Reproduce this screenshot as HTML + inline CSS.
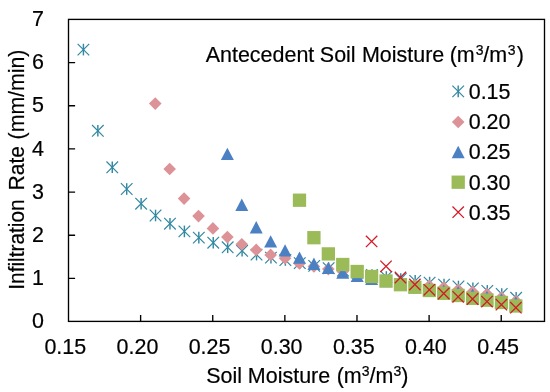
<!DOCTYPE html>
<html><head><meta charset="utf-8"><title>Infiltration Rate vs Soil Moisture</title>
<style>
html,body{margin:0;padding:0;background:#fff;}
body{width:550px;height:392px;overflow:hidden;}
svg{display:block;}
text{font-family:"Liberation Sans", Arial, sans-serif;font-size:21.5px;fill:#000;stroke:#000;stroke-width:0.2px;}
</style></head>
<body>
<svg width="550" height="392" viewBox="0 0 550 392">
<rect width="550" height="392" fill="#fff"/>
<rect x="68.5" y="19.4" width="476.00" height="302.00" fill="none" stroke="#000" stroke-width="1.35"/>
<path d="M140.62 321.5V315.00M212.74 321.5V315.00M284.86 321.5V315.00M356.98 321.5V315.00M429.11 321.5V315.00M501.23 321.5V315.00M68.5 278.36H75.10M68.5 235.21H75.10M68.5 192.07H75.10M68.5 148.93H75.10M68.5 105.79H75.10M68.5 62.64H75.10" stroke="#000" stroke-width="1.35" fill="none"/>
<path d="M77.62 43.80L89.22 55.40M89.22 43.80L77.62 55.40" stroke="#3288a2" stroke-width="1.2" fill="none"/><path d="M83.42 43.80V55.40" stroke="#3288a2" stroke-width="1.45" fill="none"/>
<path d="M92.05 125.00L103.65 136.60M103.65 125.00L92.05 136.60" stroke="#3288a2" stroke-width="1.2" fill="none"/><path d="M97.85 125.00V136.60" stroke="#3288a2" stroke-width="1.45" fill="none"/>
<path d="M106.47 161.50L118.07 173.10M118.07 161.50L106.47 173.10" stroke="#3288a2" stroke-width="1.2" fill="none"/><path d="M112.27 161.50V173.10" stroke="#3288a2" stroke-width="1.45" fill="none"/>
<path d="M120.90 183.20L132.50 194.80M132.50 183.20L120.90 194.80" stroke="#3288a2" stroke-width="1.2" fill="none"/><path d="M126.70 183.20V194.80" stroke="#3288a2" stroke-width="1.45" fill="none"/>
<path d="M135.32 197.90L146.92 209.50M146.92 197.90L135.32 209.50" stroke="#3288a2" stroke-width="1.2" fill="none"/><path d="M141.12 197.90V209.50" stroke="#3288a2" stroke-width="1.45" fill="none"/>
<path d="M149.75 209.70L161.35 221.30M161.35 209.70L149.75 221.30" stroke="#3288a2" stroke-width="1.2" fill="none"/><path d="M155.55 209.70V221.30" stroke="#3288a2" stroke-width="1.45" fill="none"/>
<path d="M164.17 217.90L175.77 229.50M175.77 217.90L164.17 229.50" stroke="#3288a2" stroke-width="1.2" fill="none"/><path d="M169.97 217.90V229.50" stroke="#3288a2" stroke-width="1.45" fill="none"/>
<path d="M178.59 225.60L190.19 237.20M190.19 225.60L178.59 237.20" stroke="#3288a2" stroke-width="1.2" fill="none"/><path d="M184.39 225.60V237.20" stroke="#3288a2" stroke-width="1.45" fill="none"/>
<path d="M193.02 231.80L204.62 243.40M204.62 231.80L193.02 243.40" stroke="#3288a2" stroke-width="1.2" fill="none"/><path d="M198.82 231.80V243.40" stroke="#3288a2" stroke-width="1.45" fill="none"/>
<path d="M207.44 236.90L219.04 248.50M219.04 236.90L207.44 248.50" stroke="#3288a2" stroke-width="1.2" fill="none"/><path d="M213.24 236.90V248.50" stroke="#3288a2" stroke-width="1.45" fill="none"/>
<path d="M221.87 241.50L233.47 253.10M233.47 241.50L221.87 253.10" stroke="#3288a2" stroke-width="1.2" fill="none"/><path d="M227.67 241.50V253.10" stroke="#3288a2" stroke-width="1.45" fill="none"/>
<path d="M236.29 245.00L247.89 256.60M247.89 245.00L236.29 256.60" stroke="#3288a2" stroke-width="1.2" fill="none"/><path d="M242.09 245.00V256.60" stroke="#3288a2" stroke-width="1.45" fill="none"/>
<path d="M250.72 248.80L262.32 260.40M262.32 248.80L250.72 260.40" stroke="#3288a2" stroke-width="1.2" fill="none"/><path d="M256.52 248.80V260.40" stroke="#3288a2" stroke-width="1.45" fill="none"/>
<path d="M265.14 251.80L276.74 263.40M276.74 251.80L265.14 263.40" stroke="#3288a2" stroke-width="1.2" fill="none"/><path d="M270.94 251.80V263.40" stroke="#3288a2" stroke-width="1.45" fill="none"/>
<path d="M279.56 254.20L291.16 265.80M291.16 254.20L279.56 265.80" stroke="#3288a2" stroke-width="1.2" fill="none"/><path d="M285.36 254.20V265.80" stroke="#3288a2" stroke-width="1.45" fill="none"/>
<path d="M293.99 257.30L305.59 268.90M305.59 257.30L293.99 268.90" stroke="#3288a2" stroke-width="1.2" fill="none"/><path d="M299.79 257.30V268.90" stroke="#3288a2" stroke-width="1.45" fill="none"/>
<path d="M308.41 260.10L320.01 271.70M320.01 260.10L308.41 271.70" stroke="#3288a2" stroke-width="1.2" fill="none"/><path d="M314.21 260.10V271.70" stroke="#3288a2" stroke-width="1.45" fill="none"/>
<path d="M322.84 262.40L334.44 274.00M334.44 262.40L322.84 274.00" stroke="#3288a2" stroke-width="1.2" fill="none"/><path d="M328.64 262.40V274.00" stroke="#3288a2" stroke-width="1.45" fill="none"/>
<path d="M337.26 264.80L348.86 276.40M348.86 264.80L337.26 276.40" stroke="#3288a2" stroke-width="1.2" fill="none"/><path d="M343.06 264.80V276.40" stroke="#3288a2" stroke-width="1.45" fill="none"/>
<path d="M351.68 267.00L363.28 278.60M363.28 267.00L351.68 278.60" stroke="#3288a2" stroke-width="1.2" fill="none"/><path d="M357.48 267.00V278.60" stroke="#3288a2" stroke-width="1.45" fill="none"/>
<path d="M366.11 269.20L377.71 280.80M377.71 269.20L366.11 280.80" stroke="#3288a2" stroke-width="1.2" fill="none"/><path d="M371.91 269.20V280.80" stroke="#3288a2" stroke-width="1.45" fill="none"/>
<path d="M380.53 271.20L392.13 282.80M392.13 271.20L380.53 282.80" stroke="#3288a2" stroke-width="1.2" fill="none"/><path d="M386.33 271.20V282.80" stroke="#3288a2" stroke-width="1.45" fill="none"/>
<path d="M394.96 273.20L406.56 284.80M406.56 273.20L394.96 284.80" stroke="#3288a2" stroke-width="1.2" fill="none"/><path d="M400.76 273.20V284.80" stroke="#3288a2" stroke-width="1.45" fill="none"/>
<path d="M409.38 275.10L420.98 286.70M420.98 275.10L409.38 286.70" stroke="#3288a2" stroke-width="1.2" fill="none"/><path d="M415.18 275.10V286.70" stroke="#3288a2" stroke-width="1.45" fill="none"/>
<path d="M423.81 276.80L435.41 288.40M435.41 276.80L423.81 288.40" stroke="#3288a2" stroke-width="1.2" fill="none"/><path d="M429.61 276.80V288.40" stroke="#3288a2" stroke-width="1.45" fill="none"/>
<path d="M438.23 278.80L449.83 290.40M449.83 278.80L438.23 290.40" stroke="#3288a2" stroke-width="1.2" fill="none"/><path d="M444.03 278.80V290.40" stroke="#3288a2" stroke-width="1.45" fill="none"/>
<path d="M452.65 280.70L464.25 292.30M464.25 280.70L452.65 292.30" stroke="#3288a2" stroke-width="1.2" fill="none"/><path d="M458.45 280.70V292.30" stroke="#3288a2" stroke-width="1.45" fill="none"/>
<path d="M467.08 282.60L478.68 294.20M478.68 282.60L467.08 294.20" stroke="#3288a2" stroke-width="1.2" fill="none"/><path d="M472.88 282.60V294.20" stroke="#3288a2" stroke-width="1.45" fill="none"/>
<path d="M481.50 285.10L493.10 296.70M493.10 285.10L481.50 296.70" stroke="#3288a2" stroke-width="1.2" fill="none"/><path d="M487.30 285.10V296.70" stroke="#3288a2" stroke-width="1.45" fill="none"/>
<path d="M495.93 288.20L507.53 299.80M507.53 288.20L495.93 299.80" stroke="#3288a2" stroke-width="1.2" fill="none"/><path d="M501.73 288.20V299.80" stroke="#3288a2" stroke-width="1.45" fill="none"/>
<path d="M510.35 292.00L521.95 303.60M521.95 292.00L510.35 303.60" stroke="#3288a2" stroke-width="1.2" fill="none"/><path d="M516.15 292.00V303.60" stroke="#3288a2" stroke-width="1.45" fill="none"/>
<path d="M155.25 97.30L161.55 103.60L155.25 109.90L148.95 103.60Z" fill="#dc9296"/>
<path d="M169.67 162.70L175.97 169.00L169.67 175.30L163.37 169.00Z" fill="#dc9296"/>
<path d="M184.09 192.30L190.39 198.60L184.09 204.90L177.79 198.60Z" fill="#dc9296"/>
<path d="M198.52 209.80L204.82 216.10L198.52 222.40L192.22 216.10Z" fill="#dc9296"/>
<path d="M212.94 222.10L219.24 228.40L212.94 234.70L206.64 228.40Z" fill="#dc9296"/>
<path d="M227.37 230.80L233.67 237.10L227.37 243.40L221.07 237.10Z" fill="#dc9296"/>
<path d="M241.79 237.90L248.09 244.20L241.79 250.50L235.49 244.20Z" fill="#dc9296"/>
<path d="M256.22 243.60L262.52 249.90L256.22 256.20L249.92 249.90Z" fill="#dc9296"/>
<path d="M270.64 248.60L276.94 254.90L270.64 261.20L264.34 254.90Z" fill="#dc9296"/>
<path d="M285.06 252.00L291.36 258.30L285.06 264.60L278.76 258.30Z" fill="#dc9296"/>
<path d="M299.49 257.20L305.79 263.50L299.49 269.80L293.19 263.50Z" fill="#dc9296"/>
<path d="M313.91 260.10L320.21 266.40L313.91 272.70L307.61 266.40Z" fill="#dc9296"/>
<path d="M328.34 262.80L334.64 269.10L328.34 275.40L322.04 269.10Z" fill="#dc9296"/>
<path d="M342.76 265.20L349.06 271.50L342.76 277.80L336.46 271.50Z" fill="#dc9296"/>
<path d="M357.18 268.20L363.48 274.50L357.18 280.80L350.88 274.50Z" fill="#dc9296"/>
<path d="M371.61 271.30L377.91 277.60L371.61 283.90L365.31 277.60Z" fill="#dc9296"/>
<path d="M386.03 274.70L392.33 281.00L386.03 287.30L379.73 281.00Z" fill="#dc9296"/>
<path d="M400.46 277.70L406.76 284.00L400.46 290.30L394.16 284.00Z" fill="#dc9296"/>
<path d="M414.88 278.70L421.18 285.00L414.88 291.30L408.58 285.00Z" fill="#dc9296"/>
<path d="M429.31 279.50L435.61 285.80L429.31 292.10L423.01 285.80Z" fill="#dc9296"/>
<path d="M443.73 281.30L450.03 287.60L443.73 293.90L437.43 287.60Z" fill="#dc9296"/>
<path d="M458.15 283.40L464.45 289.70L458.15 296.00L451.85 289.70Z" fill="#dc9296"/>
<path d="M472.58 285.50L478.88 291.80L472.58 298.10L466.28 291.80Z" fill="#dc9296"/>
<path d="M487.00 287.70L493.30 294.00L487.00 300.30L480.70 294.00Z" fill="#dc9296"/>
<path d="M501.43 291.20L507.73 297.50L501.43 303.80L495.13 297.50Z" fill="#dc9296"/>
<path d="M515.85 294.70L522.15 301.00L515.85 307.30L509.55 301.00Z" fill="#dc9296"/>
<path d="M227.37 147.70L233.87 160.10L220.87 160.10Z" fill="#4b80c3"/>
<path d="M241.79 198.50L248.29 210.90L235.29 210.90Z" fill="#4b80c3"/>
<path d="M256.22 221.10L262.72 233.50L249.72 233.50Z" fill="#4b80c3"/>
<path d="M270.64 235.20L277.14 247.60L264.14 247.60Z" fill="#4b80c3"/>
<path d="M285.06 244.20L291.56 256.60L278.56 256.60Z" fill="#4b80c3"/>
<path d="M299.49 251.40L305.99 263.80L292.99 263.80Z" fill="#4b80c3"/>
<path d="M313.91 257.50L320.41 269.90L307.41 269.90Z" fill="#4b80c3"/>
<path d="M328.34 261.70L334.84 274.10L321.84 274.10Z" fill="#4b80c3"/>
<path d="M342.76 266.30L349.26 278.70L336.26 278.70Z" fill="#4b80c3"/>
<path d="M357.18 269.50L363.68 281.90L350.68 281.90Z" fill="#4b80c3"/>
<path d="M371.61 272.70L378.11 285.10L365.11 285.10Z" fill="#4b80c3"/>
<path d="M386.03 274.80L392.53 287.20L379.53 287.20Z" fill="#4b80c3"/>
<path d="M400.46 278.30L406.96 290.70L393.96 290.70Z" fill="#4b80c3"/>
<path d="M414.88 280.60L421.38 293.00L408.38 293.00Z" fill="#4b80c3"/>
<path d="M429.31 282.20L435.81 294.60L422.81 294.60Z" fill="#4b80c3"/>
<path d="M443.73 284.40L450.23 296.80L437.23 296.80Z" fill="#4b80c3"/>
<path d="M458.15 286.10L464.65 298.50L451.65 298.50Z" fill="#4b80c3"/>
<path d="M472.58 288.40L479.08 300.80L466.08 300.80Z" fill="#4b80c3"/>
<path d="M487.00 290.80L493.50 303.20L480.50 303.20Z" fill="#4b80c3"/>
<path d="M501.43 293.30L507.93 305.70L494.93 305.70Z" fill="#4b80c3"/>
<path d="M515.85 296.30L522.35 308.70L509.35 308.70Z" fill="#4b80c3"/>
<rect x="292.84" y="193.55" width="13.3" height="13.3" fill="#9bbb59"/>
<rect x="307.26" y="231.05" width="13.3" height="13.3" fill="#9bbb59"/>
<rect x="321.69" y="247.25" width="13.3" height="13.3" fill="#9bbb59"/>
<rect x="336.11" y="257.85" width="13.3" height="13.3" fill="#9bbb59"/>
<rect x="350.53" y="264.85" width="13.3" height="13.3" fill="#9bbb59"/>
<rect x="364.96" y="269.85" width="13.3" height="13.3" fill="#9bbb59"/>
<rect x="379.38" y="274.35" width="13.3" height="13.3" fill="#9bbb59"/>
<rect x="393.81" y="278.05" width="13.3" height="13.3" fill="#9bbb59"/>
<rect x="408.23" y="280.65" width="13.3" height="13.3" fill="#9bbb59"/>
<rect x="422.66" y="283.85" width="13.3" height="13.3" fill="#9bbb59"/>
<rect x="437.08" y="286.65" width="13.3" height="13.3" fill="#9bbb59"/>
<rect x="451.50" y="288.85" width="13.3" height="13.3" fill="#9bbb59"/>
<rect x="465.93" y="291.65" width="13.3" height="13.3" fill="#9bbb59"/>
<rect x="480.35" y="293.55" width="13.3" height="13.3" fill="#9bbb59"/>
<rect x="494.78" y="295.85" width="13.3" height="13.3" fill="#9bbb59"/>
<rect x="509.20" y="299.35" width="13.3" height="13.3" fill="#9bbb59"/>
<path d="M365.91 235.70L377.31 247.10M377.31 235.70L365.91 247.10" stroke="#d31a26" stroke-width="1.3" fill="none"/>
<path d="M380.33 260.60L391.73 272.00M391.73 260.60L380.33 272.00" stroke="#d31a26" stroke-width="1.3" fill="none"/>
<path d="M394.76 271.80L406.16 283.20M406.16 271.80L394.76 283.20" stroke="#d31a26" stroke-width="1.3" fill="none"/>
<path d="M409.18 278.80L420.58 290.20M420.58 278.80L409.18 290.20" stroke="#d31a26" stroke-width="1.3" fill="none"/>
<path d="M423.61 284.10L435.01 295.50M435.01 284.10L423.61 295.50" stroke="#d31a26" stroke-width="1.3" fill="none"/>
<path d="M438.03 287.80L449.43 299.20M449.43 287.80L438.03 299.20" stroke="#d31a26" stroke-width="1.3" fill="none"/>
<path d="M452.45 291.10L463.85 302.50M463.85 291.10L452.45 302.50" stroke="#d31a26" stroke-width="1.3" fill="none"/>
<path d="M466.88 293.30L478.28 304.70M478.28 293.30L466.88 304.70" stroke="#d31a26" stroke-width="1.3" fill="none"/>
<path d="M481.30 295.90L492.70 307.30M492.70 295.90L481.30 307.30" stroke="#d31a26" stroke-width="1.3" fill="none"/>
<path d="M495.73 299.00L507.13 310.40M507.13 299.00L495.73 310.40" stroke="#d31a26" stroke-width="1.3" fill="none"/>
<path d="M510.15 302.00L521.55 313.40M521.55 302.00L510.15 313.40" stroke="#d31a26" stroke-width="1.3" fill="none"/>
<text transform="translate(44.00 328.10) scale(1 1.035)" text-anchor="end">0</text>
<text transform="translate(44.00 284.96) scale(1 1.035)" text-anchor="end">1</text>
<text transform="translate(44.00 241.81) scale(1 1.035)" text-anchor="end">2</text>
<text transform="translate(44.00 198.67) scale(1 1.035)" text-anchor="end">3</text>
<text transform="translate(44.00 155.53) scale(1 1.035)" text-anchor="end">4</text>
<text transform="translate(44.00 112.39) scale(1 1.035)" text-anchor="end">5</text>
<text transform="translate(44.00 69.24) scale(1 1.035)" text-anchor="end">6</text>
<text transform="translate(44.00 26.10) scale(1 1.035)" text-anchor="end">7</text>
<text transform="translate(65.30 353.60) scale(1 1.035)" text-anchor="middle">0.15</text>
<text transform="translate(137.42 353.60) scale(1 1.035)" text-anchor="middle">0.20</text>
<text transform="translate(209.54 353.60) scale(1 1.035)" text-anchor="middle">0.25</text>
<text transform="translate(281.66 353.60) scale(1 1.035)" text-anchor="middle">0.30</text>
<text transform="translate(353.78 353.60) scale(1 1.035)" text-anchor="middle">0.35</text>
<text transform="translate(425.91 353.60) scale(1 1.035)" text-anchor="middle">0.40</text>
<text transform="translate(498.03 353.60) scale(1 1.035)" text-anchor="middle">0.45</text>
<text transform="translate(206.22 383.10) scale(1 1.035)">Soil</text>
<text transform="translate(247.84 383.10) scale(1 1.035)">Moisture</text>
<text transform="translate(336.67 383.10) scale(1 1.035)">(m<tspan font-size="14" dy="-7">3</tspan><tspan dy="7">/m</tspan><tspan font-size="14" dy="-7">3</tspan><tspan dy="7">)</tspan></text>
<text transform="translate(23.5 289.72) rotate(-90) scale(0.969 1.035)">Infiltration</text>
<text transform="translate(23.5 190.43) rotate(-90) scale(0.979 1.035)">Rate</text>
<text transform="translate(23.5 139.42) rotate(-90) scale(0.99 1.035)">(mm/min)</text>
<text transform="translate(205.66 61.80) scale(1 1.035)">Antecedent</text>
<text transform="translate(319.82 61.80) scale(1 1.035)">Soil</text>
<text transform="translate(361.94 61.80) scale(1 1.035)">Moisture</text>
<text transform="translate(449.67 61.80) scale(1 1.035)">(m<tspan font-size="14" dy="-7" dx="1.1">3</tspan><tspan dy="7" dx="-0.3">/m</tspan><tspan font-size="14" dy="-7" dx="0.6">3</tspan><tspan dy="7" dx="1.3">)</tspan></text>
<path d="M452.40 85.60L464.00 97.20M464.00 85.60L452.40 97.20" stroke="#3288a2" stroke-width="1.2" fill="none"/><path d="M458.20 85.60V97.20" stroke="#3288a2" stroke-width="1.45" fill="none"/>
<text transform="translate(468.70 98.80) scale(1 1.035)">0.15</text>
<path d="M458.20 115.70L464.50 122.00L458.20 128.30L451.90 122.00Z" fill="#dc9296"/>
<text transform="translate(468.70 129.40) scale(1 1.035)">0.20</text>
<path d="M458.20 145.80L464.70 158.20L451.70 158.20Z" fill="#4b80c3"/>
<text transform="translate(468.70 159.40) scale(1 1.035)">0.25</text>
<rect x="451.55" y="175.55" width="13.3" height="13.3" fill="#9bbb59"/>
<text transform="translate(468.70 189.60) scale(1 1.035)">0.30</text>
<path d="M452.50 206.50L463.90 217.90M463.90 206.50L452.50 217.90" stroke="#d31a26" stroke-width="1.3" fill="none"/>
<text transform="translate(468.70 219.60) scale(1 1.035)">0.35</text>
</svg>
</body></html>
